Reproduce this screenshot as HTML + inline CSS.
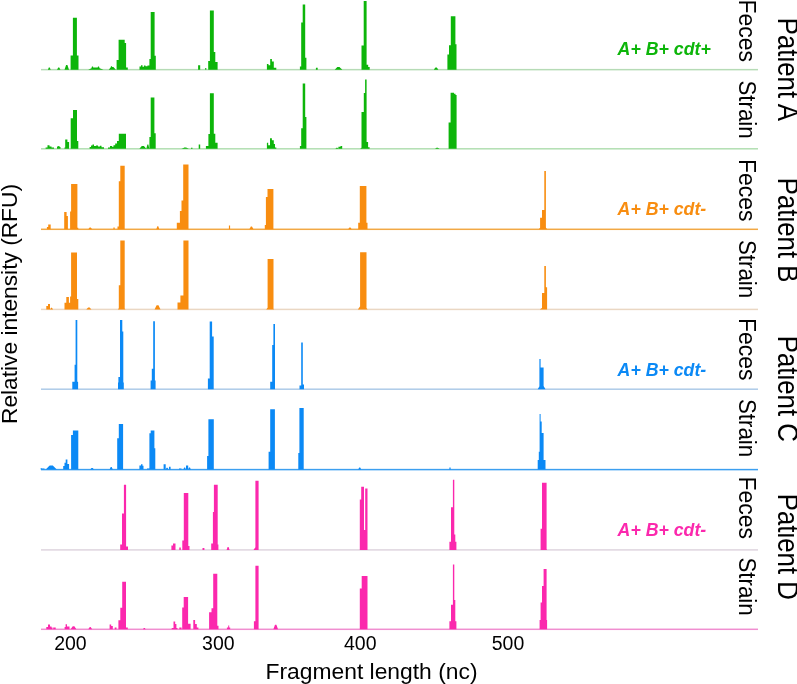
<!DOCTYPE html><html><head><meta charset="utf-8"><title>Fragment length profiles</title><style>html,body{margin:0;padding:0;background:#fff;}svg{display:block;}text{font-family:"Liberation Sans",Arial,sans-serif;}</style></head><body>
<svg width="797" height="684" viewBox="0 0 797 684">
<rect width="797" height="684" fill="#fff"/>
<rect x="41" y="68.9" width="717" height="1.5" fill="#b6dbb6"/>
<path fill="#0db50a" d="M40,69.65 47.9,69.65 48.3,68.69 48.8,67.5 49.8,67.5 50.2,68.46 50.7,69.65 57,69.65 57.7,68.39 58.1,67.66 58.2,67.5 59.2,67.5 59.4,67.84 60.4,69.65 64.5,69.65 66,65.22 66.1,65 67.4,65 67.5,65.22 69,69.65 70.6,69.65 70.6,55.5 72.9,55.5 72.9,17.7 76.9,17.7 76.9,55.5 78.5,55.5 78.5,69.65 88.3,69.65 88.7,69.49 91,68.6 91.3,68.49 91.4,68.35 91.9,66.72 92,66.4 93,66.4 93.3,67.38 93.4,67.67 93.6,67.6 97.6,67.6 97.7,67.51 98,66.6 99,66.6 99.5,68.12 99.6,68.18 102.9,69.46 103.4,69.65 108.7,69.65 110.4,67.86 110.5,67.76 110.6,67.58 111,66.2 112,66.2 112.2,66.89 112.3,67 113.3,67 113.4,67.02 115.9,69.65 116.6,69.65 116.6,60 118.6,60 118.6,39.7 124.7,39.7 124.7,43 126.1,43 126.1,67.5 127.8,67.5 127.8,69.65 139.5,69.65 139.5,66.5 141,66.5 141,65.2 142.5,65.2 142.5,66.8 144,66.8 144,65.5 145.5,65.5 145.5,66.2 147.5,66.2 147.5,65.5 149.4,65.5 149.4,59 150.7,59 150.7,11.9 154.6,11.9 154.6,55.8 155.8,55.8 155.8,69.65 198.1,69.65 198.1,65.2 200.2,65.2 200.2,69.65 205.2,69.65 205.2,68 206.3,68 206.3,69.65 208.2,69.65 208.2,60.9 209.9,60.9 209.9,10.4 213.8,10.4 213.8,52.1 215.3,52.1 215.3,62.1 217.6,62.1 217.6,69.65 266.9,69.65 266.9,64 268.5,64 268.5,65.2 270.2,65.2 270.2,59 271.9,59 271.9,61.5 273.8,61.5 273.8,67.8 276.3,67.8 276.3,69.65 299.9,69.65 299.9,66.5 301.2,66.5 301.2,22.6 302.7,22.6 302.7,4.4 305.2,4.4 305.2,57.7 306.4,57.7 306.4,69.65 315.9,69.65 315.9,67.8 317.7,67.8 317.7,69.65 334.7,69.65 335.2,69.16 337.1,67.32 337.3,67.12 337.5,67.1 339.5,67.1 339.6,67.12 339.9,67.42 341,68.48 341.3,68.78 342.1,69.55 342.2,69.65 361.5,69.65 361.5,45.5 363.7,45.5 363.7,0.9 366.6,0.9 366.6,64.7 368.2,64.7 368.2,66.9 369.7,66.9 369.7,69.65 433.8,69.65 434.5,68.72 434.8,68.31 435.3,67.65 435.4,67.51 436.7,67.5 436.8,67.51 437.7,68.72 438.2,69.38 438.4,69.65 447.4,69.65 447.4,54.4 449,54.4 449,45.3 450.8,45.3 450.8,16.3 455.4,16.3 455.4,44.2 456.5,44.2 456.5,69.65 760,69.65Z"/>
<rect x="41" y="148.05" width="717" height="1.5" fill="#b2dfb2"/>
<path fill="#0db50a" d="M40,148.8 45.6,148.8 45.6,147.5 47.5,147.5 47.5,145.2 49.5,145.2 49.5,146.5 51.5,146.5 51.5,147.6 54,147.6 54,148.8 57,148.8 57,146.5 58.2,146.5 58.2,145.9 59.5,145.9 59.5,147 60.5,147 60.5,148.8 64.5,148.8 64.5,147.5 65.2,147.5 65.2,139.6 67.4,139.6 67.4,142.1 69.1,142.1 69.1,148.8 70.7,148.8 70.7,118.3 73,118.3 73,110.1 77,110.1 77,140.9 78.3,140.9 78.3,148.8 89.6,148.8 89.6,147 91,147 91,145.5 92.5,145.5 92.5,144.6 94,144.6 94,146 96,146 96,145.5 98,145.5 98,146.5 100,146.5 100,145.8 101.5,145.8 101.5,147.3 104,147.3 104,148.8 108,148.8 108,147.5 110,147.5 110,145.9 112,145.9 112,146.7 113.5,146.7 113.5,145.3 115.2,145.3 115.2,143.4 117,143.4 117,140.9 118.8,140.9 118.8,133.7 126,133.7 126,148.8 139.4,148.8 141.8,145.92 142,145.9 143.8,145.9 143.9,145.92 146.3,148.8 147.3,144.8 147.4,144.6 148.3,144.6 148.4,144.8 149.3,148.4 149.4,148.4 149.4,137.1 150.7,137.1 150.7,97.6 154.4,97.6 154.4,133.3 155.7,133.3 155.7,148.8 181.4,148.8 184,147.63 184.1,147.6 186.3,147.6 186.5,147.67 188.9,148.75 189,148.8 191,148.8 191,147.8 192.5,147.8 192.5,148.8 198.7,148.8 198.7,144.6 200.2,144.6 200.2,148.8 205.9,148.8 205.9,145.9 208.4,145.9 208.4,134 209.9,134 209.9,93.2 213.8,93.2 213.8,133.7 215.3,133.7 215.3,142.7 217.6,142.7 217.6,148.8 266.9,148.8 266.9,142.7 268.2,142.7 268.2,145.2 270,145.2 270,138.3 271.9,138.3 271.9,140.2 273.8,140.2 273.8,144 275,144 275,147.5 276.3,147.5 276.3,148.8 299.9,148.8 299.9,145.9 301.2,145.9 301.2,128.3 302.7,128.3 302.7,83.5 305.2,83.5 305.2,117 306.4,117 306.4,148.8 335.3,148.8 336.2,147.94 336.3,147.85 336.4,147.8 337.3,147.8 337.4,147.85 338.2,148.61 338.3,148.7 338.4,148.7 338.4,146.8 340.5,146.8 340.5,145.9 342.2,145.9 342.2,148.8 360.2,148.8 360.5,148.56 361.1,148.07 361.4,147.82 361.5,147.82 361.5,111.9 363.8,111.9 363.8,93.1 365.1,93.1 365.1,79.5 366.6,79.5 366.6,142 368.1,142 368.1,147.3 369.6,147.3 369.6,148.8 435,148.8 436.5,147.75 436.6,147.7 437.9,147.7 438.2,147.89 439.5,148.8 448.6,148.8 448.6,122.4 450.6,122.4 450.6,92.8 454,92.8 454,93.8 455.5,93.8 455.5,95 456.6,95 456.6,148.8 760,148.8Z"/>
<rect x="41" y="228.55" width="717" height="1.5" fill="#f2a844"/>
<path fill="#f88d10" d="M40,229.3 46.9,229.3 46.9,227 48.2,227 48.2,224.6 50.7,224.6 50.7,229.3 64.2,229.3 64.2,212.1 66.6,212.1 66.6,215.9 67.9,215.9 67.9,229.3 70.1,229.3 70.1,211.5 71.1,211.5 71.1,183.9 77.4,183.9 77.4,227.8 78.3,227.8 78.3,229.3 88.3,229.3 89.6,227.54 89.7,227.5 90.7,227.5 90.8,227.54 92.1,229.3 113.4,229.3 113.4,227.5 114.7,227.5 114.7,229.3 117.5,229.3 117.5,226.5 118.8,226.5 118.8,181.3 120.3,181.3 120.3,165.7 124.7,165.7 124.7,229.3 156.3,229.3 157.3,226.3 158.3,226.3 159.3,229.3 176.8,229.3 176.8,222.8 179.9,222.8 179.9,211.1 181.5,211.1 181.5,200.6 183.2,200.6 183.2,164.4 188.5,164.4 188.5,229.3 228.9,229.3 228.9,225.6 230.1,225.6 230.1,229.3 249.3,229.3 250.3,227.4 250.7,226.63 250.8,226.5 252,226.5 252.1,226.63 252.4,227.2 253.5,229.3 264.8,229.3 264.8,225 265.9,225 265.9,197.1 267.5,197.1 267.5,188.9 273.4,188.9 273.4,229.3 348.2,229.3 349.2,227.83 349.4,227.54 349.5,227.5 350.4,227.5 350.5,227.54 351.5,229.01 351.7,229.3 358.2,229.3 358.2,222.8 359.8,222.8 359.8,185.9 366.4,185.9 366.4,222.8 367.5,222.8 367.5,229.3 538.9,229.3 539.4,228.59 540,227.73 540.1,227.73 540.1,217.7 542,217.7 542,210 544.3,210 544.3,170.9 545.9,170.9 545.9,227.59 546.2,228.01 546.6,228.59 546.9,229.01 547.1,229.3 760,229.3Z"/>
<rect x="41" y="308.65" width="717" height="1.5" fill="#ead7c3"/>
<path fill="#f88d10" d="M40,309.4 46.3,309.4 46.3,306 48,306 48,304 50,304 50,309.4 51,307.8 52,307.8 53,309.4 64.5,309.4 64.5,302.8 66.3,302.8 66.3,297.1 68.9,297.1 68.9,302.8 70.1,302.8 70.1,296.5 71.1,296.5 71.1,252.6 77,252.6 77,299 78.3,299 78.3,309.4 86.4,309.4 86.7,309.07 87.9,307.77 88.1,307.55 88.2,307.5 89.6,307.5 89.7,307.55 90.3,308.21 91,308.97 91.4,309.4 117.9,309.4 118.7,308.36 118.8,308.36 118.8,285.2 120.3,285.2 120.3,240.4 124.7,240.4 124.7,308.49 125.4,309.4 154.6,309.4 155.4,307.77 155.6,307.37 156,306.55 156.5,305.54 156.6,305.33 156.7,305.2 158.4,305.2 158.5,305.33 159.2,306.76 159.4,307.16 160.3,308.99 160.5,309.4 177.5,309.4 177.5,302.4 180.4,302.4 180.4,295.4 183.4,295.4 183.4,240.4 188.5,240.4 188.5,309.4 266.2,309.4 267.2,308.15 267.5,307.78 267.6,307.78 267.6,259 273.5,259 273.5,308.78 274,309.4 357.8,309.4 358.2,308.88 359.6,307.04 360,306.51 360.1,306.51 360.1,252.2 366.5,252.2 366.5,307.96 367.1,308.74 367.6,309.4 540,309.4 540.7,308.86 541.6,308.18 541.8,308.02 541.9,307.95 542,307.95 542,293 544.3,293 544.3,266.1 545.9,266.1 545.9,287.2 547.1,287.2 547.1,309.4 760,309.4Z"/>
<rect x="41" y="388.45" width="717" height="1.5" fill="#aecbe8"/>
<path fill="#0b89f5" d="M40,389.2 72.3,389.2 72.3,381.7 74.6,381.7 74.6,364.8 75.6,364.8 75.6,320.1 77.3,320.1 77.3,381.7 78.1,381.7 78.1,389.2 118,389.2 118,382.5 118.4,382.5 118.4,377 120,377 120,320.1 122.3,320.1 122.3,331.4 123.3,331.4 123.3,382.5 123.8,382.5 123.8,389.2 150.6,389.2 150.6,380.5 151.8,380.5 151.8,368.8 153.2,368.8 153.2,321.3 154.9,321.3 154.9,380.5 155.6,380.5 155.6,389.2 207.9,389.2 207.9,378.6 209.7,378.6 209.7,321.5 212.1,321.5 212.1,336.5 213.7,336.5 213.7,389.2 270.2,389.2 270.2,381.7 272.2,381.7 272.2,345 273.4,345 273.4,323.9 275,323.9 275,389.2 299.5,389.2 299.5,385.5 301.2,385.5 301.2,342.6 302.8,342.6 302.8,384.5 304,384.5 304,389.2 537.7,389.2 539.3,386.56 539.4,386.56 539.4,359 540.6,359 540.6,367.6 543.6,367.6 543.6,386.07 545.5,389.2 760,389.2Z"/>
<rect x="41" y="468.85" width="717" height="1.5" fill="#3c9ff0"/>
<path fill="#0b89f5" d="M40,469.6 40.6,469.6 40.6,468.3 41.9,468.3 42,468.6 44.5,468.6 44.5,469.6 45.6,469.6 46,469.2 48.4,466.77 48.6,466.57 49.5,465.66 49.6,465.6 52.9,465.6 53,465.66 53.8,466.46 56.3,468.99 56.9,469.6 63.2,469.6 63.2,466 64.5,466 64.5,462.8 65.7,462.8 65.7,459.6 67.4,459.6 67.4,464 69.1,464 69.1,469.6 71.1,469.6 71.1,434.9 72.9,434.9 72.9,430.5 78.3,430.5 78.3,469.6 90.2,469.6 91.5,468.04 91.6,468 92.6,468 92.7,468.04 94,469.6 109.6,469.6 110.7,466.9 111.7,466.9 112.8,469.6 117.2,469.6 117.2,438.3 118.8,438.3 118.8,424.1 123.1,424.1 123.1,469.6 139.4,469.6 139.4,465.5 141,465.5 141,464.3 142.5,464.3 142.5,465.8 143.5,465.8 143.5,469.6 147,469.6 147,468.4 149.4,468.4 149.4,433.3 150.7,433.3 150.7,430.5 154.4,430.5 154.4,448.3 155.3,448.3 155.3,469.6 163.6,469.6 163.6,464.3 165.7,464.3 165.7,469.6 166.6,467.8 167.6,467.8 168.5,469.6 169,469.6 169,466.8 170.6,466.8 170.6,469.6 179,469.6 179,468.4 181.5,468.4 181.5,469.6 183.3,469.6 184,467.95 184.1,467.72 184.2,467.6 185.1,467.6 185.2,467.72 185.8,469.13 185.9,469.36 186,469.36 186,465.5 188.2,465.5 188.2,469.6 189,467.6 190,467.6 190.8,469.6 207.1,469.6 207.1,455.9 208.4,455.9 208.4,419.2 213.8,419.2 213.8,469.6 268.6,469.6 268.6,451.8 270.2,451.8 270.2,409.3 274.9,409.3 274.9,469.6 298.3,469.6 298.3,453 299.4,453 299.4,408.1 303.7,408.1 303.7,469.6 358.2,469.6 359.2,467.5 360.2,467.5 361.2,469.6 449.4,469.6 449.4,467.5 450.6,467.5 450.6,469.6 537.7,469.6 537.7,460 538.8,460 538.8,451.8 539.6,451.8 539.6,414 540.6,414 540.6,421.4 541.7,421.4 541.7,433.1 543.6,433.1 543.6,460 545.5,460 545.5,469.6 760,469.6Z"/>
<rect x="41" y="549.15" width="717" height="1.5" fill="#dfd5df"/>
<path fill="#fb28ad" d="M40,549.9 120.2,549.9 120.2,544.6 122,544.6 122,513.4 123.9,513.4 123.9,484.8 126.1,484.8 126.1,546.5 128,546.5 128,549.9 171.4,549.9 171.4,545.5 173,545.5 173,543.5 175.5,543.5 175.5,549.9 179.3,549.9 179.3,547.5 180.8,547.5 180.8,549.9 182.3,549.9 182.3,540.5 183.8,540.5 183.8,493.1 188.3,493.1 188.3,546 189.5,546 189.5,549.9 202.5,549.9 202.5,548 204.4,548 204.4,549.9 211.2,549.9 211.2,543.5 212.9,543.5 212.9,511.9 213.9,511.9 213.9,484.8 217.7,484.8 217.7,544.6 218.4,544.6 218.4,549.9 226.6,549.9 227.6,547 228.6,547 229.6,549.9 253.5,549.9 255.2,547.61 255.3,547.5 255.4,547.5 255.4,480.8 258.6,480.8 258.6,549.9 359.8,549.9 359.8,499.6 361.2,499.6 361.2,486.7 364,486.7 364,530 365.2,530 365.2,488.5 367.5,488.5 367.5,549.9 449.4,549.9 449.4,541.7 451,541.7 451,507.3 452.9,507.3 452.9,479.7 454.3,479.7 454.3,534.6 455.3,534.6 455.3,541.7 456.4,541.7 456.4,549.9 540.6,549.9 540.6,528.8 542,528.8 542,482.7 546.6,482.7 546.6,549.03 547,549.9 760,549.9Z"/>
<rect x="41" y="628.55" width="717" height="1.5" fill="#f08ed0"/>
<path fill="#fb28ad" d="M40,629.3 46.3,629.3 46.3,627 48,627 48,624.6 50,624.6 50,626.5 51.5,626.5 51.5,627.5 52.5,627.5 52.5,629.3 53.2,629.3 53.2,627.5 55.7,627.5 55.7,629.3 64.6,629.3 64.6,627 65.6,627 65.6,624.3 67,624.3 67,626.5 69.5,626.5 69.5,629.3 70.7,629.3 72,627.35 72.6,626.44 72.7,626.3 74.4,626.3 75,627.19 76.4,629.3 88.3,629.3 89.6,627.15 89.7,627.1 90.7,627.1 90.8,627.15 92.1,629.3 109.6,629.3 109.6,624.6 111.2,624.6 111.2,626 112.8,626 112.8,629.3 114.7,629.3 114.7,627.5 116.5,627.5 116.5,629.3 118.4,629.3 118.4,620.2 120.3,620.2 120.3,607.7 122.2,607.7 122.2,581.7 126,581.7 126,627.5 127.8,627.5 127.8,629.3 143,629.3 143.8,628.08 143.9,628 144.8,628 144.9,628.08 145.1,628.38 145.7,629.3 171.7,629.3 171.7,628.1 173.5,628.1 173.5,621.4 175.2,621.4 175.2,624 176.4,624 176.4,628 177.5,628 177.5,629.3 179.3,629.3 179.3,627.5 181.6,627.5 181.6,629.3 182.2,629.3 182.2,607.6 183.7,607.6 183.7,597.1 188.1,597.1 188.1,623.8 190.6,623.8 190.6,629.3 193.3,629.3 193.3,619.9 195.1,619.9 195.1,624 196.8,624 196.8,627.5 198.4,627.5 198.4,629.3 209.1,629.3 209.1,612.3 211.5,612.3 211.5,608.2 213.2,608.2 213.2,573.7 217.3,573.7 217.3,625.8 218.5,625.8 218.5,629.3 226.9,629.3 226.9,627.5 228.2,627.5 228.2,625.5 229.2,625.5 229.2,627.5 230.2,627.5 230.2,629.3 253.9,629.3 253.9,621.2 255.4,621.2 255.4,565.8 258.6,565.8 258.6,629.3 273.4,629.3 274,627.59 274.4,626.44 274.7,625.59 274.9,625.01 275,624.73 275.1,624.7 276.3,624.7 276.4,624.73 277.2,627.01 277.4,627.59 277.9,629.01 278,629.3 359.8,629.3 359.8,588.5 361.7,588.5 361.7,576 367.5,576 367.5,629.3 449.4,629.3 449.4,621.2 451,621.2 451,604.8 452.9,604.8 452.9,564.4 454.3,564.4 454.3,600 455.3,600 455.3,621.2 456.4,621.2 456.4,629.3 539.6,629.3 539.6,620 540.6,620 540.6,602.5 542,602.5 542,586.1 543.6,586.1 543.6,569 546.6,569 546.6,620 547.1,620 547.1,629.3 760,629.3Z"/>
<text x="617.6" y="55" font-size="18" font-weight="bold" font-style="italic" fill="#0db50a" textLength="93.2" lengthAdjust="spacingAndGlyphs">A+ B+ cdt+</text>
<text x="617.6" y="215" font-size="18" font-weight="bold" font-style="italic" fill="#f88d10" textLength="88.6" lengthAdjust="spacingAndGlyphs">A+ B+ cdt-</text>
<text x="617.6" y="375.7" font-size="18" font-weight="bold" font-style="italic" fill="#0b89f5" textLength="88.6" lengthAdjust="spacingAndGlyphs">A+ B+ cdt-</text>
<text x="617.6" y="536" font-size="18" font-weight="bold" font-style="italic" fill="#fb28ad" textLength="88.6" lengthAdjust="spacingAndGlyphs">A+ B+ cdt-</text>
<text transform="translate(739.2,-0.6) rotate(90)" font-size="23" textLength="62.6" lengthAdjust="spacingAndGlyphs">Feces</text>
<text transform="translate(739.2,80.5) rotate(90)" font-size="23" textLength="58.2" lengthAdjust="spacingAndGlyphs">Strain</text>
<text transform="translate(778,17.8) rotate(90) scale(0.875,1)" font-size="29.5">Patient A</text>
<text transform="translate(739.2,158.9) rotate(90)" font-size="23" textLength="62.6" lengthAdjust="spacingAndGlyphs">Feces</text>
<text transform="translate(739.2,240) rotate(90)" font-size="23" textLength="58.2" lengthAdjust="spacingAndGlyphs">Strain</text>
<text transform="translate(778,177.8) rotate(90) scale(0.875,1)" font-size="29.5">Patient B</text>
<text transform="translate(739.2,317.9) rotate(90)" font-size="23" textLength="62.6" lengthAdjust="spacingAndGlyphs">Feces</text>
<text transform="translate(739.2,399) rotate(90)" font-size="23" textLength="58.2" lengthAdjust="spacingAndGlyphs">Strain</text>
<text transform="translate(778,335.8) rotate(90) scale(0.875,1)" font-size="29.5">Patient C</text>
<text transform="translate(739.2,476.4) rotate(90)" font-size="23" textLength="62.6" lengthAdjust="spacingAndGlyphs">Feces</text>
<text transform="translate(739.2,557.5) rotate(90)" font-size="23" textLength="58.2" lengthAdjust="spacingAndGlyphs">Strain</text>
<text transform="translate(778,493.8) rotate(90) scale(0.875,1)" font-size="29.5">Patient D</text>
<text transform="translate(17,424) rotate(-90)" font-size="22.5" textLength="240" lengthAdjust="spacingAndGlyphs">Relative intensity (RFU)</text>
<text transform="translate(70.4,650) scale(1,1.055)" font-size="19.5" text-anchor="middle">200</text>
<text transform="translate(218.3,650) scale(1,1.055)" font-size="19.5" text-anchor="middle">300</text>
<text transform="translate(360.2,650) scale(1,1.055)" font-size="19.5" text-anchor="middle">400</text>
<text transform="translate(508,650) scale(1,1.055)" font-size="19.5" text-anchor="middle">500</text>
<text x="265.5" y="678.9" font-size="22.3" textLength="212" lengthAdjust="spacingAndGlyphs">Fragment length (nc)</text>
</svg></body></html>
